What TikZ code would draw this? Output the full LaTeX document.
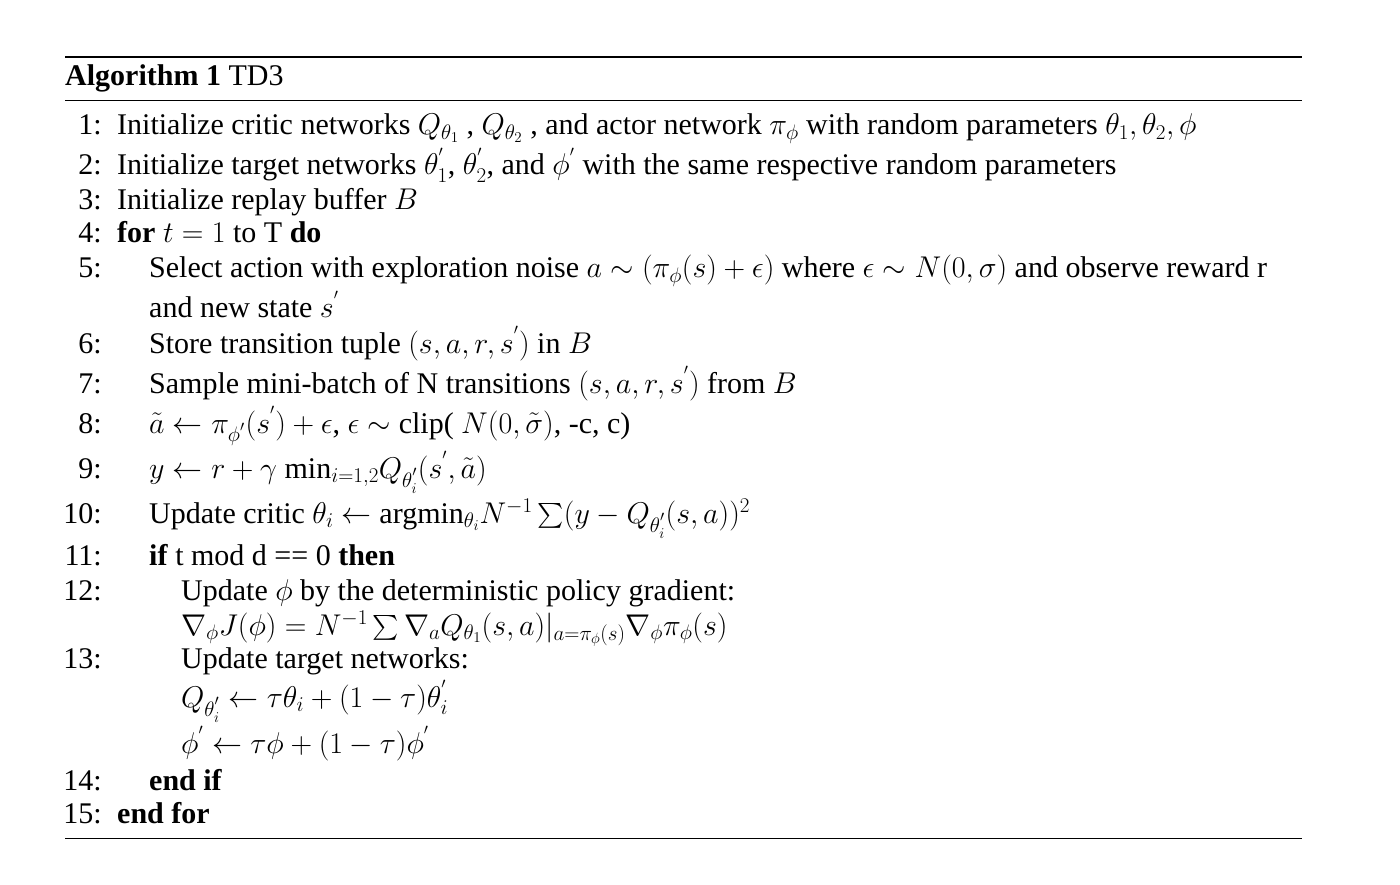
\RequirePackage{fix-cm}
\documentclass[tikz,border=0pt]{standalone}
\usepackage{amsmath}
\usepackage{fontspec}
\setmainfont{Liberation Serif}
\begin{document}
\begin{tikzpicture}[x=1pt,y=-1pt,
  num/.style={anchor=base east,inner sep=0pt},
  txt/.style={anchor=base west,inner sep=0pt},
  rule/.style={line width=1.2pt}]
\fontsize{30}{36}\selectfont
\useasboundingbox (0,0) rectangle (1400,885);
\coordinate (r1a) at (65,57); \coordinate (r1b) at (1302,57);
\coordinate (r2a) at (65,100); \coordinate (r2b) at (1302,100);
\coordinate (r3a) at (65,838); \coordinate (r3b) at (1302,838);
\draw[rule] (r1a) -- (r1b);
\draw[line width=0.8pt] (r2a) -- (r2b);
\draw[line width=0.8pt] (r3a) -- (r3b);
\node[txt] (h) at (65,86) {\textbf{Algorithm 1} TD3};
\def\L#1#2#3#4{\node[num] (n#1) at (102,#2) {#1:}; \node[txt] (t#1) at (#3,#2) {#4};}
\L{1}{135}{117}{Initialize critic networks $Q_{\theta_1}$ , $Q_{\theta_2}$ , and actor network $\pi_\phi$ with random parameters $\theta_1, \theta_2, \phi$}
\L{2}{175}{117}{Initialize target networks $\theta^{'}_1$, $\theta^{'}_2$, and $\phi^{'}$ with the same respective random parameters}
\L{3}{210}{117}{Initialize replay buffer $B$}
\L{4}{243}{117}{\textbf{for} $t=1$ to T \textbf{do}}
\L{5}{278}{149}{Select action with exploration noise $a\sim(\pi_\phi(s)+\epsilon)$ where $\epsilon\sim N(0,\sigma)$ and observe reward r}
\node[txt] (t5b) at (149,318) {and new state $s^{'}$};
\L{6}{353}{149}{Store transition tuple $(s,a,r,s^{'})$ in $B$}
\L{7}{393}{149}{Sample mini-batch of N transitions $(s,a,r,s^{'})$ from $B$}
\L{8}{433}{149}{$\tilde a\leftarrow\pi_{\phi^{'}}(s^{'})+\epsilon$, $\epsilon\sim$ clip( $N(0,\tilde\sigma)$, -c, c)}
\L{9}{478}{149}{$y\leftarrow r+\gamma$ min$_{i=1,2}Q_{\theta^{'}_i}(s^{'},\tilde a)$}
\L{10}{523}{149}{Update critic $\theta_i\leftarrow$ argmin$_{\theta_i}N^{-1}\sum(y-Q_{\theta^{'}_i}(s,a))^2$}
\L{11}{565}{149}{\textbf{if} t mod d == 0 \textbf{then}}
\L{12}{600}{181}{Update $\phi$ by the deterministic policy gradient:}
\node[txt] (t12b) at (181,635) {$\nabla_\phi J(\phi)=N^{-1}\sum\nabla_aQ_{\theta_1}(s,a)|_{a=\pi_\phi(s)}\nabla_\phi\pi_\phi(s)$};
\L{13}{668}{181}{Update target networks:}
\node[txt] (t13b) at (181,707) {$Q_{\theta^{'}_i}\leftarrow\tau\theta_i+(1-\tau)\theta^{'}_i$};
\node[txt] (t13c) at (181,753) {$\phi^{'}\leftarrow\tau\phi+(1-\tau)\phi^{'}$};
\L{14}{790}{149}{\textbf{end if}}
\L{15}{823}{117}{\textbf{end for}}
\end{tikzpicture}
\end{document}
